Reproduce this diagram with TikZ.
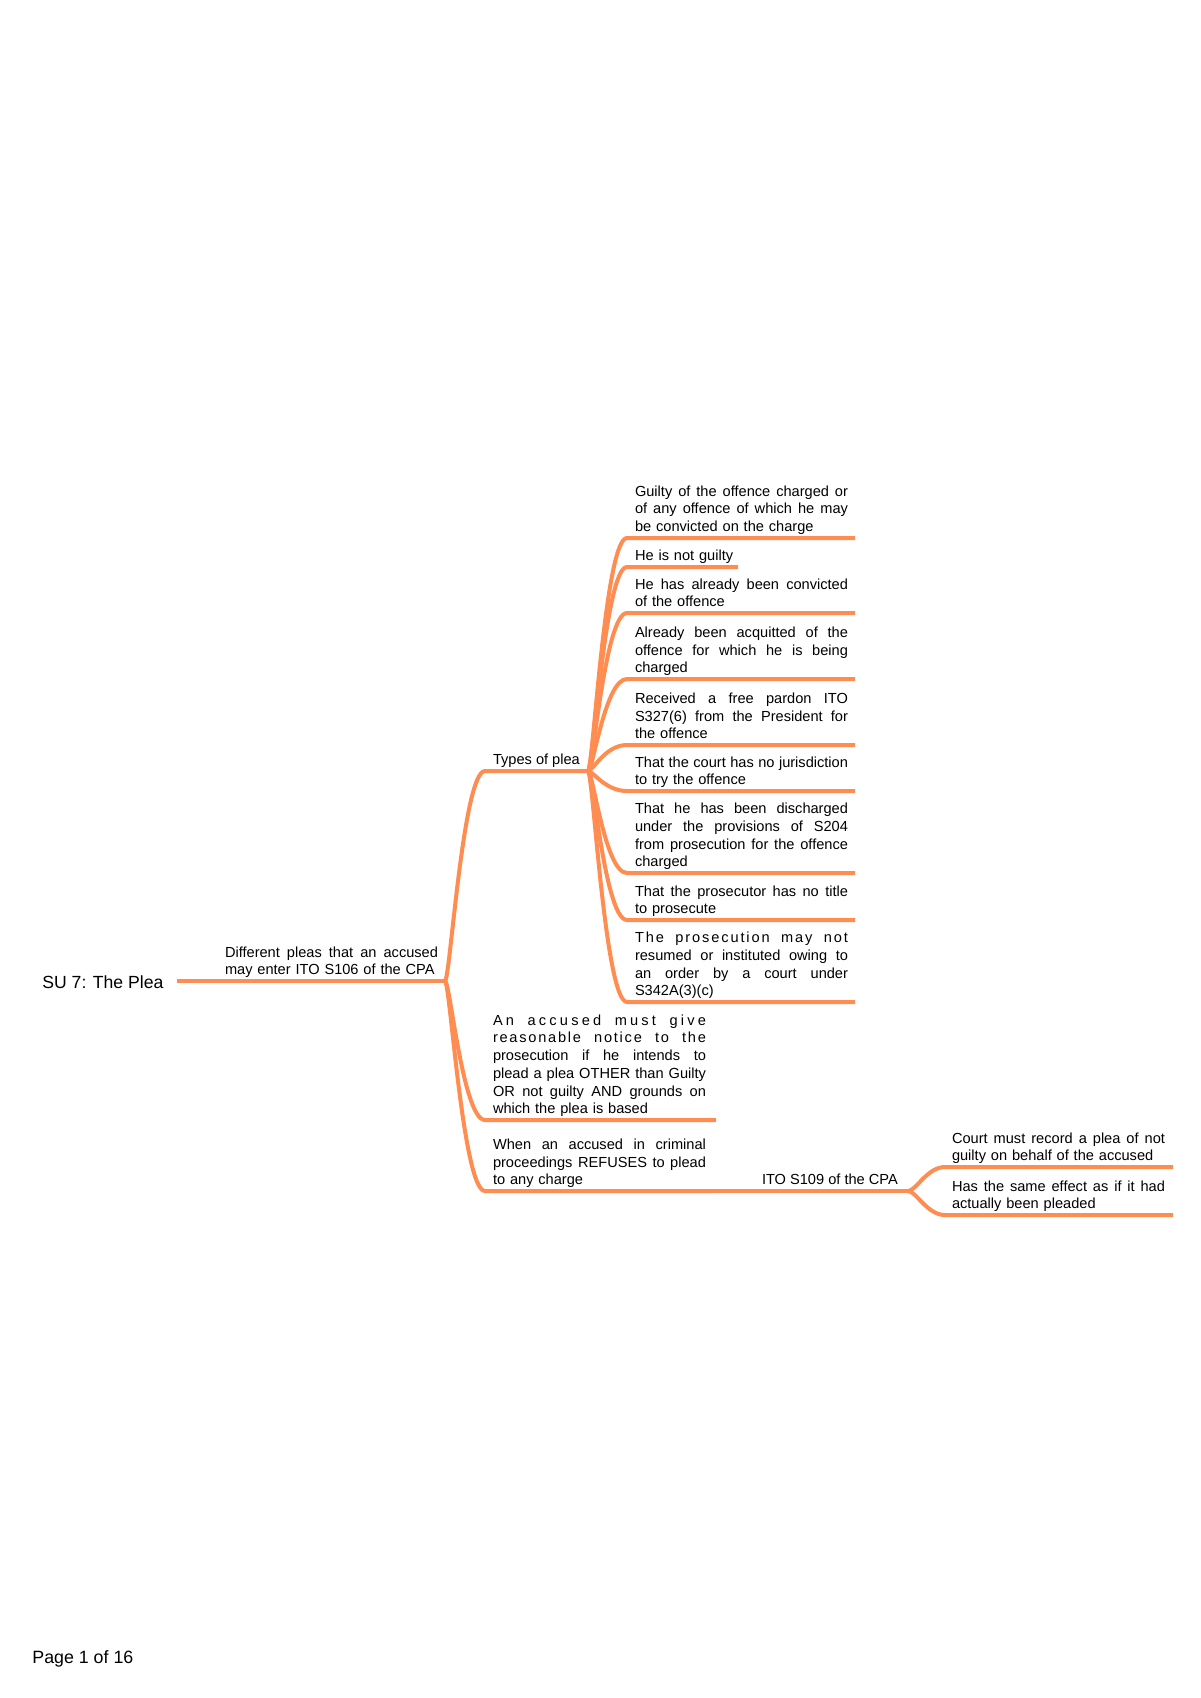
\documentclass[tikz,border=0pt]{standalone}
\usepackage{fontspec}
\setmainfont{Liberation Sans}
\usetikzlibrary{calc}
\definecolor{mmorange}{RGB}{255,140,80}
\setlength\parindent{0pt}
\newlength\tw \setlength\tw{106.5pt}
\newcommand\J[1]{\makebox[\tw][s]{\spaceskip=0pt\xspaceskip=0pt #1}\\}
\newcommand\LS[2]{{\addfontfeature{LetterSpace=#1}#2}}
\begin{document}
\begin{tikzpicture}[x=0.5pt,y=-0.5pt,
  conn/.style={draw=mmorange, line width=2pt, line join=round},
  txt/.style={inner sep=0pt, outer sep=0pt, anchor=south west, align=left, text width=\tw, font=\fontsize{7.3}{8.85}\selectfont},
  lbl/.style={inner sep=0pt, outer sep=0pt, anchor=south west, font=\fontsize{7.3}{8.85}\selectfont}]
\useasboundingbox[fill=white] (0,0) rectangle (1200,1698);

% coordinates
\coordinate (r0) at (177,981);
\coordinate (h1) at (445,981);
\coordinate (t0) at (485,771);
\coordinate (h2) at (588,771);
\coordinate (a0) at (485,1120);
\coordinate (a1) at (716,1120);
\coordinate (w0) at (485,1191);
\coordinate (w1) at (713,1191);
\coordinate (h3) at (908,1191);
\coordinate (c1) at (627,538);  \coordinate (e1) at (855,538);
\coordinate (c2) at (627,567);  \coordinate (e2) at (738,567);
\coordinate (c3) at (627,613);  \coordinate (e3) at (855,613);
\coordinate (c4) at (627,679);  \coordinate (e4) at (855,679);
\coordinate (c5) at (627,745);  \coordinate (e5) at (855,745);
\coordinate (c6) at (627,791);  \coordinate (e6) at (855,791);
\coordinate (c7) at (627,873);  \coordinate (e7) at (855,873);
\coordinate (c8) at (627,920);  \coordinate (e8) at (855,920);
\coordinate (c9) at (627,1002); \coordinate (e9) at (855,1002);
\coordinate (i1) at (945,1167); \coordinate (j1) at (1173,1167);
\coordinate (i2) at (945,1215); \coordinate (j2) at (1173,1215);

% connectors
\draw[conn] (r0) -- (h1);
\draw[conn] (h1) .. controls +(5,0) and +(-22,0) .. (t0) -- (h2);
\draw[conn] (h1) .. controls +(5,0) and +(-22,0) .. (a0) -- (a1);
\draw[conn] (h1) .. controls +(5,0) and +(-22,0) .. (w0) -- (w1);
\draw[conn] (w1) -- (h3);
\foreach \k in {1,...,9}{
  \draw[conn] (h2) .. controls +(5,0) and +(-22,0) .. (c\k) -- (e\k);
}
\draw[conn] (h3) .. controls +(8,0) and +(-18,0) .. (i1) -- (j1);
\draw[conn] (h3) .. controls +(8,0) and +(-18,0) .. (i2) -- (j2);

% texts
\node[inner sep=0pt, anchor=base west, font=\fontsize{8.8}{10}\selectfont] (root) at (42,988) {SU 7: The Plea};
\node[inner sep=0pt, anchor=base west, font=\fontsize{8.9}{10}\selectfont] (page) at (32,1663) {Page 1 of 16};

\node[txt] (n0) at (225,980) {\J{Different pleas that an accused}may enter ITO S106 of the CPA\strut};
\node[lbl] (types) at (493,770) {Types of plea\strut};

\node[txt] (k1) at (635,537) {\J{Guilty of the offence charged or}\J{of any offence of which he may}be convicted on the charge\strut};
\node[txt] (k2) at (635,566) {He is not guilty\strut};
\node[txt] (k3) at (635,612) {\J{He has already been convicted}of the offence\strut};
\node[txt] (k4) at (635,678) {\J{Already been acquitted of the}\J{offence for which he is being}charged\strut};
\node[txt] (k5) at (635,744) {\J{Received a free pardon ITO}\J{S327(6) from the President for}the offence\strut};
\node[txt] (k6) at (635,790) {\J{That the court has no jurisdiction}to try the offence\strut};
\node[txt] (k7) at (635,872) {\J{That he has been discharged}\J{under the provisions of S204}\J{from prosecution for the offence}charged\strut};
\node[txt] (k8) at (635,919) {\J{That the prosecutor has no title}to prosecute\strut};
\node[txt] (k9) at (635,1001) {\J{\LS{13}{The prosecution may not}}\J{resumed or instituted owing to}\J{an order by a court under}S342A(3)(c)\strut};

\node[txt] (n2) at (493,1119) {\J{\LS{22}{An accused must give}}\J{\LS{12}{reasonable notice to the}}\J{prosecution if he intends to}\J{plead a plea OTHER than Guilty}\J{OR not guilty AND grounds on}which the plea is based\strut};
\node[txt] (n3) at (493,1190) {\J{When an accused in criminal}\J{proceedings REFUSES to plead}to any charge\strut};
\node[lbl] (ito) at (762,1190) {ITO S109 of the CPA\strut};
\node[txt] (m1) at (952,1166) {\J{Court must record a plea of not}guilty on behalf of the accused\strut};
\node[txt] (m2) at (952,1214) {\J{Has the same effect as if it had}actually been pleaded\strut};
\end{tikzpicture}
\end{document}
